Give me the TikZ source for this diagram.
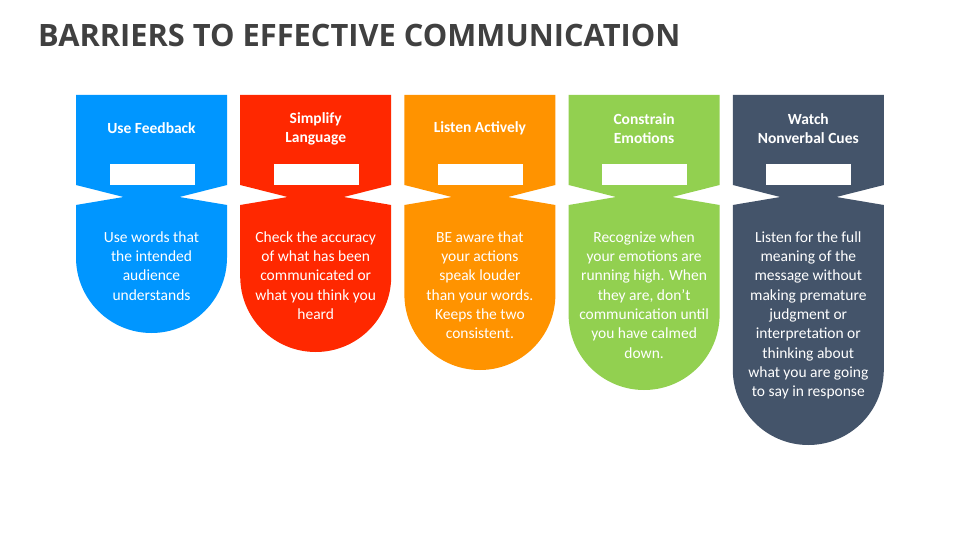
\documentclass[tikz,border=0pt]{standalone}
\usepackage{fontspec}
\setmainfont{Carlito}
\newfontfamily\titlefont{Open Sans}
\begin{document}
\begin{tikzpicture}[x=1pt,y=-1pt]
\tikzset{
 head/.style={text=white,font=\bfseries\fontsize{15.5}{19}\selectfont,align=center,anchor=center},
 body/.style={text=white,font=\fontsize{15.5}{19.3}\selectfont,align=center,anchor=north},
 hdtitle/.style={text=black!75,font=\titlefont\bfseries\fontsize{30.8}{36}\selectfont,anchor=west,inner sep=0}
}
\definecolor{c1}{HTML}{0096FF}
\definecolor{c2}{HTML}{FF2800}
\definecolor{c3}{HTML}{FF9300}
\definecolor{c4}{HTML}{92D050}
\definecolor{c5}{HTML}{44546A}
\fill[white] (0,0) rectangle (960,540);
\node[hdtitle] (title) at (38,35) {BARRIERS TO EFFECTIVE COMMUNICATION};
\foreach \i/\col/\bot/\hd/\bd in {
 0/c1/333/{Use Feedback}/{Use words that\\the intended\\audience\\understands},
 1/c2/352/{Simplify\\Language}/{Check the accuracy\\of what has been\\communicated or\\what you think you\\heard},
 2/c3/370/{Listen Actively}/{BE aware that\\your actions\\speak louder\\than your words.\\Keeps the two\\consistent.},
 3/c4/390/{Constrain\\Emotions}/{Recognize when\\your emotions are\\running high. When\\they are, don’t\\communication until\\you have calmed\\down.},
 4/c5/445/{Watch\\Nonverbal Cues}/{Listen for the full\\meaning of the\\message without\\making premature\\judgment or\\interpretation or\\thinking about\\what you are going\\to say in response}}{
 \pgfmathsetmacro{\xl}{76+164.2*\i}
 \pgfmathsetmacro{\xr}{\xl+151}
 \pgfmathsetmacro{\xc}{\xl+75.5}
 \pgfmathsetmacro{\yc}{\bot-75.5}
 \fill[\col] (\xl,95) -- (\xr,95) -- (\xr,185) -- (\xc+28,197) -- (\xr,205) -- (\xr,\yc)
   arc[start angle=0,end angle=180,radius=75.5] -- (\xl,205) -- (\xc-28,197) -- (\xl,185) -- cycle;
 \fill[white] (\xc-42,164) rectangle (\xc+43,185);
 \node[head] (h\i) at (\xc,128.5) {\hd};
 \node[body] (b\i) at (\xc,228) {\bd};
}
\end{tikzpicture}
\end{document}
